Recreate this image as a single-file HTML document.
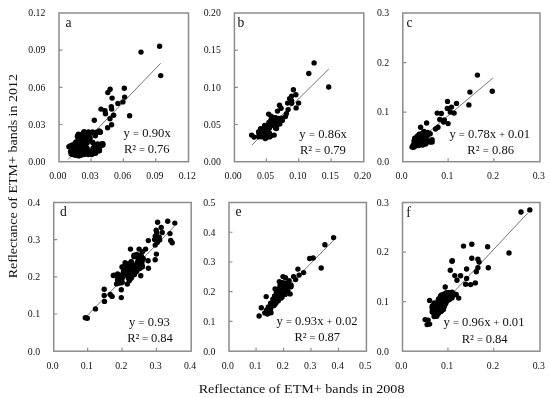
<!DOCTYPE html><html><head><meta charset="utf-8"><style>html,body{margin:0;padding:0;background:#fff;width:550px;height:398px;overflow:hidden}svg{display:block}text{font-family:"Liberation Serif", "DejaVu Serif", serif;fill:#111}</style></head><body>
<svg width="550" height="398" viewBox="0 0 550 398">
<rect width="550" height="398" fill="#fff"/>
<g><line x1="68.1" y1="159.3" x2="160.7" y2="63.3" stroke="#6e6e6e" stroke-width="0.95"/><circle cx="141.0" cy="52.1" r="2.7"/><circle cx="159.6" cy="46.2" r="2.7"/><circle cx="160.7" cy="75.6" r="2.7"/><circle cx="110.1" cy="89.2" r="2.7"/><circle cx="107.8" cy="92.6" r="2.7"/><circle cx="112.1" cy="98.1" r="2.7"/><circle cx="124.3" cy="88.2" r="2.7"/><circle cx="124.6" cy="97.1" r="2.7"/><circle cx="122.9" cy="101.9" r="2.7"/><circle cx="117.9" cy="103.4" r="2.7"/><circle cx="111.3" cy="106.6" r="2.7"/><circle cx="111.6" cy="109.1" r="2.7"/><circle cx="105.0" cy="110.7" r="2.7"/><circle cx="101.0" cy="109.1" r="2.7"/><circle cx="105.5" cy="113.7" r="2.7"/><circle cx="113.6" cy="115.2" r="2.7"/><circle cx="110.0" cy="118.7" r="2.7"/><circle cx="129.6" cy="115.7" r="2.7"/><circle cx="111.6" cy="124.8" r="2.7"/><circle cx="107.6" cy="127.8" r="2.7"/><circle cx="94.3" cy="120.3" r="2.7"/><circle cx="78.4" cy="134.1" r="2.7"/><circle cx="84.1" cy="131.8" r="2.7"/><circle cx="88.5" cy="132" r="2.7"/><circle cx="92.5" cy="132" r="2.7"/><circle cx="96.5" cy="132.2" r="2.7"/><circle cx="100.0" cy="132.2" r="2.7"/><circle cx="87.1" cy="132.7" r="2.7"/><circle cx="90.1" cy="132.7" r="2.7"/><circle cx="93.1" cy="132.7" r="2.7"/><circle cx="96.1" cy="132.7" r="2.7"/><circle cx="79.6" cy="135.3" r="2.7"/><circle cx="82.6" cy="135.3" r="2.7"/><circle cx="85.6" cy="135.3" r="2.7"/><circle cx="88.6" cy="135.3" r="2.7"/><circle cx="78.1" cy="137.9" r="2.7"/><circle cx="81.1" cy="137.9" r="2.7"/><circle cx="84.1" cy="137.9" r="2.7"/><circle cx="87.1" cy="137.9" r="2.7"/><circle cx="90.1" cy="137.9" r="2.7"/><circle cx="79.6" cy="140.5" r="2.7"/><circle cx="82.6" cy="140.5" r="2.7"/><circle cx="85.6" cy="140.5" r="2.7"/><circle cx="88.6" cy="140.5" r="2.7"/><circle cx="75.1" cy="143.1" r="2.7"/><circle cx="78.1" cy="143.1" r="2.7"/><circle cx="81.1" cy="143.1" r="2.7"/><circle cx="84.1" cy="143.1" r="2.7"/><circle cx="87.1" cy="143.1" r="2.7"/><circle cx="93.1" cy="143.1" r="2.7"/><circle cx="70.6" cy="145.7" r="2.7"/><circle cx="73.6" cy="145.7" r="2.7"/><circle cx="76.6" cy="145.7" r="2.7"/><circle cx="79.6" cy="145.7" r="2.7"/><circle cx="82.6" cy="145.7" r="2.7"/><circle cx="85.6" cy="145.7" r="2.7"/><circle cx="94.6" cy="145.7" r="2.7"/><circle cx="97.6" cy="145.7" r="2.7"/><circle cx="75.1" cy="148.3" r="2.7"/><circle cx="78.1" cy="148.3" r="2.7"/><circle cx="81.1" cy="148.3" r="2.7"/><circle cx="84.1" cy="148.3" r="2.7"/><circle cx="87.1" cy="148.3" r="2.7"/><circle cx="93.1" cy="148.3" r="2.7"/><circle cx="96.1" cy="148.3" r="2.7"/><circle cx="73.6" cy="150.9" r="2.7"/><circle cx="76.6" cy="150.9" r="2.7"/><circle cx="79.6" cy="150.9" r="2.7"/><circle cx="82.6" cy="150.9" r="2.7"/><circle cx="85.6" cy="150.9" r="2.7"/><circle cx="88.6" cy="150.9" r="2.7"/><circle cx="91.6" cy="150.9" r="2.7"/><circle cx="94.6" cy="150.9" r="2.7"/><circle cx="97.6" cy="150.9" r="2.7"/><circle cx="72.1" cy="153.5" r="2.7"/><circle cx="75.1" cy="153.5" r="2.7"/><circle cx="78.1" cy="153.5" r="2.7"/><circle cx="81.1" cy="153.5" r="2.7"/><circle cx="84.1" cy="153.5" r="2.7"/><circle cx="87.1" cy="153.5" r="2.7"/><circle cx="90.1" cy="153.5" r="2.7"/><circle cx="93.1" cy="153.5" r="2.7"/><circle cx="77.5" cy="136.0" r="2.7"/><circle cx="78.3" cy="134.9" r="2.7"/><circle cx="83.0" cy="133.2" r="2.7"/><circle cx="86.1" cy="133.0" r="2.7"/><circle cx="89.1" cy="132.8" r="2.7"/><circle cx="92.8" cy="132.8" r="2.7"/><circle cx="95.5" cy="132.7" r="2.7"/><circle cx="99.2" cy="131.0" r="2.7"/><circle cx="100.4" cy="132.0" r="2.7"/><circle cx="95.8" cy="132.9" r="2.7"/><circle cx="95.3" cy="135.7" r="2.7"/><circle cx="92.6" cy="142.1" r="2.7"/><circle cx="97.6" cy="144.0" r="2.7"/><circle cx="101.2" cy="143.9" r="2.7"/><circle cx="102.9" cy="143.7" r="2.7"/><circle cx="102.8" cy="145.0" r="2.7"/><circle cx="100.8" cy="146.1" r="2.7"/><circle cx="99.2" cy="149.5" r="2.7"/><circle cx="99.5" cy="150.8" r="2.7"/><circle cx="95.6" cy="153.2" r="2.7"/><circle cx="91.8" cy="154.5" r="2.7"/><circle cx="88.2" cy="154.5" r="2.7"/><circle cx="84.1" cy="154.6" r="2.7"/><circle cx="80.9" cy="155.2" r="2.7"/><circle cx="78.8" cy="155.9" r="2.7"/><circle cx="75.3" cy="155.3" r="2.7"/><circle cx="72.4" cy="154.5" r="2.7"/><circle cx="71.1" cy="153.7" r="2.7"/><circle cx="70.6" cy="151.5" r="2.7"/><circle cx="70.9" cy="146.5" r="2.7"/><circle cx="68.9" cy="146.8" r="2.7"/><circle cx="72.4" cy="144.9" r="2.7"/><circle cx="76.0" cy="142.0" r="2.7"/><circle cx="78.3" cy="137.3" r="2.7"/><circle cx="77.5" cy="136.3" r="2.7"/><rect x="59" y="13" width="129.50" height="148.70" fill="none" stroke="#8c8c8c" stroke-width="1.5"/><text x="57.80" y="179.30" font-size="9.8" text-anchor="middle">0.00</text><text x="90.17" y="179.30" font-size="9.8" text-anchor="middle">0.03</text><text x="122.55" y="179.30" font-size="9.8" text-anchor="middle">0.06</text><text x="154.93" y="179.30" font-size="9.8" text-anchor="middle">0.09</text><text x="187.30" y="179.30" font-size="9.8" text-anchor="middle">0.12</text><text x="45.40" y="165.00" font-size="9.8" text-anchor="end">0.00</text><text x="45.40" y="127.82" font-size="9.8" text-anchor="end">0.03</text><text x="45.40" y="90.65" font-size="9.8" text-anchor="end">0.06</text><text x="45.40" y="53.47" font-size="9.8" text-anchor="end">0.09</text><text x="45.40" y="16.30" font-size="9.8" text-anchor="end">0.12</text><path d="M90.97 161.7v-3.5 M123.35 161.7v-3.5 M155.72 161.7v-3.5 M59 124.52h3.5 M59 87.35h3.5 M59 50.17h3.5" stroke="#8c8c8c" stroke-width="1.2" fill="none"/><text x="65.5" y="26.5" font-size="13.6">a</text><text x="147.1" y="137.2" font-size="12.6" text-anchor="middle" textLength="47.3" lengthAdjust="spacing">y <tspan font-size="10.5">=</tspan> 0.90x</text><text x="146.7" y="153.0" font-size="12.6" text-anchor="middle" textLength="45.6" lengthAdjust="spacing">R² <tspan font-size="10.5">=</tspan> 0.76</text></g>
<g><line x1="251.9" y1="145.0" x2="328.9" y2="68.9" stroke="#6e6e6e" stroke-width="0.95"/><circle cx="314.1" cy="62.9" r="2.7"/><circle cx="308.8" cy="73.5" r="2.7"/><circle cx="328.7" cy="87" r="2.7"/><circle cx="293.4" cy="89.8" r="2.7"/><circle cx="295.9" cy="94.8" r="2.7"/><circle cx="291.6" cy="96.1" r="2.7"/><circle cx="289.6" cy="98.6" r="2.7"/><circle cx="291.6" cy="100.6" r="2.7"/><circle cx="287.6" cy="103.1" r="2.7"/><circle cx="291.6" cy="103.3" r="2.7"/><circle cx="298.6" cy="103.1" r="2.7"/><circle cx="296.1" cy="107.9" r="2.7"/><circle cx="279.5" cy="105.3" r="2.7"/><circle cx="281.1" cy="108.2" r="2.7"/><circle cx="277.5" cy="111.1" r="2.7"/><circle cx="288.1" cy="109.6" r="2.7"/><circle cx="286.4" cy="113.6" r="2.7"/><circle cx="285.4" cy="116.6" r="2.7"/><circle cx="268.6" cy="114.1" r="2.7"/><circle cx="271.1" cy="116.1" r="2.7"/><circle cx="251.6" cy="135.1" r="2.7"/><circle cx="254.1" cy="137.1" r="2.7"/><circle cx="275.5" cy="117.6" r="2.7"/><circle cx="271.0" cy="120.2" r="2.7"/><circle cx="274.0" cy="120.2" r="2.7"/><circle cx="277.0" cy="120.2" r="2.7"/><circle cx="280.0" cy="120.2" r="2.7"/><circle cx="269.5" cy="122.8" r="2.7"/><circle cx="272.5" cy="122.8" r="2.7"/><circle cx="275.5" cy="122.8" r="2.7"/><circle cx="278.5" cy="122.8" r="2.7"/><circle cx="265.0" cy="125.4" r="2.7"/><circle cx="268.0" cy="125.4" r="2.7"/><circle cx="271.0" cy="125.4" r="2.7"/><circle cx="274.0" cy="125.4" r="2.7"/><circle cx="277.0" cy="125.4" r="2.7"/><circle cx="263.5" cy="128.0" r="2.7"/><circle cx="266.5" cy="128.0" r="2.7"/><circle cx="269.5" cy="128.0" r="2.7"/><circle cx="275.5" cy="128.0" r="2.7"/><circle cx="262.0" cy="130.6" r="2.7"/><circle cx="265.0" cy="130.6" r="2.7"/><circle cx="268.0" cy="130.6" r="2.7"/><circle cx="260.5" cy="133.2" r="2.7"/><circle cx="263.5" cy="133.2" r="2.7"/><circle cx="266.5" cy="133.2" r="2.7"/><circle cx="269.5" cy="133.2" r="2.7"/><circle cx="262.0" cy="135.8" r="2.7"/><circle cx="265.0" cy="135.8" r="2.7"/><circle cx="268.0" cy="135.8" r="2.7"/><circle cx="271.0" cy="135.8" r="2.7"/><circle cx="258.7" cy="136.7" r="2.7"/><circle cx="258.9" cy="133.5" r="2.7"/><circle cx="258.7" cy="131.6" r="2.7"/><circle cx="260.6" cy="128.7" r="2.7"/><circle cx="264.6" cy="125.7" r="2.7"/><circle cx="268.9" cy="122.4" r="2.7"/><circle cx="271.2" cy="119.9" r="2.7"/><circle cx="274.5" cy="117.6" r="2.7"/><circle cx="278.8" cy="118.4" r="2.7"/><circle cx="281.3" cy="118.3" r="2.7"/><circle cx="282.3" cy="120.4" r="2.7"/><circle cx="279.8" cy="123.9" r="2.7"/><circle cx="276.5" cy="128.6" r="2.7"/><circle cx="274.2" cy="135.1" r="2.7"/><circle cx="269.6" cy="136.9" r="2.7"/><circle cx="266.5" cy="137.6" r="2.7"/><circle cx="265.3" cy="138.6" r="2.7"/><circle cx="261.4" cy="136.7" r="2.7"/><rect x="234.4" y="13" width="129.40" height="148.70" fill="none" stroke="#8c8c8c" stroke-width="1.5"/><text x="233.20" y="179.30" font-size="9.8" text-anchor="middle">0.00</text><text x="265.55" y="179.30" font-size="9.8" text-anchor="middle">0.05</text><text x="297.90" y="179.30" font-size="9.8" text-anchor="middle">0.10</text><text x="330.25" y="179.30" font-size="9.8" text-anchor="middle">0.15</text><text x="362.60" y="179.30" font-size="9.8" text-anchor="middle">0.20</text><text x="220.80" y="165.00" font-size="9.8" text-anchor="end">0.00</text><text x="220.80" y="127.82" font-size="9.8" text-anchor="end">0.05</text><text x="220.80" y="90.65" font-size="9.8" text-anchor="end">0.10</text><text x="220.80" y="53.47" font-size="9.8" text-anchor="end">0.15</text><text x="220.80" y="16.30" font-size="9.8" text-anchor="end">0.20</text><path d="M266.35 161.7v-3.5 M298.70 161.7v-3.5 M331.05 161.7v-3.5 M234.4 124.52h3.5 M234.4 87.35h3.5 M234.4 50.17h3.5" stroke="#8c8c8c" stroke-width="1.2" fill="none"/><text x="237.6" y="26.6" font-size="13.6">b</text><text x="323.1" y="138.0" font-size="12.6" text-anchor="middle" textLength="47.6" lengthAdjust="spacing">y <tspan font-size="10.5">=</tspan> 0.86x</text><text x="322.9" y="154.1" font-size="12.6" text-anchor="middle" textLength="45.8" lengthAdjust="spacing">R² <tspan font-size="10.5">=</tspan> 0.79</text></g>
<g><line x1="414" y1="144.5" x2="492.8" y2="78.1" stroke="#6e6e6e" stroke-width="0.95"/><circle cx="477.4" cy="75.1" r="2.7"/><circle cx="469.9" cy="92.1" r="2.7"/><circle cx="492.3" cy="91.2" r="2.7"/><circle cx="468.9" cy="104.9" r="2.7"/><circle cx="447.5" cy="101.4" r="2.7"/><circle cx="456.5" cy="103.4" r="2.7"/><circle cx="447.3" cy="108.4" r="2.7"/><circle cx="451.5" cy="107.1" r="2.7"/><circle cx="450.3" cy="112" r="2.7"/><circle cx="454.1" cy="113.1" r="2.7"/><circle cx="437.2" cy="113.1" r="2.7"/><circle cx="441.3" cy="113.5" r="2.7"/><circle cx="439.8" cy="119.5" r="2.7"/><circle cx="444.3" cy="119.9" r="2.7"/><circle cx="443.6" cy="122.1" r="2.7"/><circle cx="448.1" cy="123.6" r="2.7"/><circle cx="426.6" cy="123" r="2.7"/><circle cx="420.6" cy="127.2" r="2.7"/><circle cx="435.5" cy="129" r="2.7"/><circle cx="438" cy="127.2" r="2.7"/><circle cx="412" cy="147.1" r="2.7"/><circle cx="432.1" cy="142.1" r="2.7"/><circle cx="419.5" cy="134.2" r="2.7"/><circle cx="422.5" cy="134.2" r="2.7"/><circle cx="425.5" cy="134.2" r="2.7"/><circle cx="428.5" cy="134.2" r="2.7"/><circle cx="418.0" cy="136.8" r="2.7"/><circle cx="421.0" cy="136.8" r="2.7"/><circle cx="424.0" cy="136.8" r="2.7"/><circle cx="427.0" cy="136.8" r="2.7"/><circle cx="416.5" cy="139.4" r="2.7"/><circle cx="419.5" cy="139.4" r="2.7"/><circle cx="422.5" cy="139.4" r="2.7"/><circle cx="425.5" cy="139.4" r="2.7"/><circle cx="415.0" cy="142.0" r="2.7"/><circle cx="418.0" cy="142.0" r="2.7"/><circle cx="421.0" cy="142.0" r="2.7"/><circle cx="424.0" cy="142.0" r="2.7"/><circle cx="427.0" cy="142.0" r="2.7"/><circle cx="430.0" cy="142.0" r="2.7"/><circle cx="413.5" cy="144.6" r="2.7"/><circle cx="416.5" cy="144.6" r="2.7"/><circle cx="419.5" cy="144.6" r="2.7"/><circle cx="422.5" cy="144.6" r="2.7"/><circle cx="414.0" cy="140.9" r="2.7"/><circle cx="414.7" cy="138.1" r="2.7"/><circle cx="417.2" cy="136.1" r="2.7"/><circle cx="419.1" cy="134.5" r="2.7"/><circle cx="422.6" cy="133.0" r="2.7"/><circle cx="424.0" cy="131.5" r="2.7"/><circle cx="427.7" cy="132.5" r="2.7"/><circle cx="430.2" cy="133.7" r="2.7"/><circle cx="428.9" cy="141.2" r="2.7"/><circle cx="432.1" cy="139.7" r="2.7"/><circle cx="430.4" cy="141.6" r="2.7"/><circle cx="425.7" cy="144.0" r="2.7"/><circle cx="422.7" cy="145.1" r="2.7"/><circle cx="418.7" cy="145.5" r="2.7"/><circle cx="415.5" cy="146.0" r="2.7"/><circle cx="413.7" cy="147.3" r="2.7"/><circle cx="413.1" cy="145.5" r="2.7"/><rect x="402.8" y="13" width="137.20" height="148.70" fill="none" stroke="#8c8c8c" stroke-width="1.5"/><text x="401.60" y="179.30" font-size="9.8" text-anchor="middle">0.0</text><text x="447.33" y="179.30" font-size="9.8" text-anchor="middle">0.1</text><text x="493.07" y="179.30" font-size="9.8" text-anchor="middle">0.2</text><text x="538.80" y="179.30" font-size="9.8" text-anchor="middle">0.3</text><text x="389.20" y="165.00" font-size="9.8" text-anchor="end">0.0</text><text x="389.20" y="115.43" font-size="9.8" text-anchor="end">0.1</text><text x="389.20" y="65.87" font-size="9.8" text-anchor="end">0.2</text><text x="389.20" y="16.30" font-size="9.8" text-anchor="end">0.3</text><path d="M448.13 161.7v-3.5 M493.87 161.7v-3.5 M402.8 112.13h3.5 M402.8 62.57h3.5" stroke="#8c8c8c" stroke-width="1.2" fill="none"/><text x="406.6" y="26.7" font-size="13.6">c</text><text x="489.7" y="137.9" font-size="12.6" text-anchor="middle" textLength="80.5" lengthAdjust="spacing">y <tspan font-size="10.5">=</tspan> 0.78x <tspan font-size="10">+</tspan> 0.01</text><text x="490.7" y="154.3" font-size="12.6" text-anchor="middle" textLength="46.9" lengthAdjust="spacing">R² <tspan font-size="10.5">=</tspan> 0.86</text></g>
<g><line x1="86.3" y1="316.5" x2="174.5" y2="226.1" stroke="#6e6e6e" stroke-width="0.95"/><circle cx="167.7" cy="221.2" r="2.7"/><circle cx="174.8" cy="223.1" r="2.7"/><circle cx="157.6" cy="222.3" r="2.7"/><circle cx="161.2" cy="227.5" r="2.7"/><circle cx="156.2" cy="230.3" r="2.7"/><circle cx="162.2" cy="232.5" r="2.7"/><circle cx="156.7" cy="233" r="2.7"/><circle cx="155.2" cy="236.1" r="2.7"/><circle cx="159.2" cy="237.1" r="2.7"/><circle cx="154.6" cy="239.6" r="2.7"/><circle cx="159.7" cy="240.1" r="2.7"/><circle cx="157.2" cy="242.6" r="2.7"/><circle cx="155.2" cy="245.1" r="2.7"/><circle cx="170" cy="233.6" r="2.7"/><circle cx="170.7" cy="240.4" r="2.7"/><circle cx="172.2" cy="242.7" r="2.7"/><circle cx="148.3" cy="240.6" r="2.7"/><circle cx="130.5" cy="249.1" r="2.7"/><circle cx="139.1" cy="249.1" r="2.7"/><circle cx="145.6" cy="249.1" r="2.7"/><circle cx="142.6" cy="251.6" r="2.7"/><circle cx="156.4" cy="254.1" r="2.7"/><circle cx="155.2" cy="259.7" r="2.7"/><circle cx="148.1" cy="260.7" r="2.7"/><circle cx="134" cy="255.2" r="2.7"/><circle cx="137.7" cy="257.6" r="2.7"/><circle cx="141.5" cy="256.3" r="2.7"/><circle cx="143.3" cy="258.8" r="2.7"/><circle cx="148.4" cy="268.3" r="2.7"/><circle cx="141.5" cy="266.4" r="2.7"/><circle cx="125.1" cy="262.6" r="2.7"/><circle cx="122" cy="267" r="2.7"/><circle cx="113.8" cy="275.2" r="2.7"/><circle cx="117.6" cy="273.9" r="2.7"/><circle cx="140.8" cy="275.8" r="2.7"/><circle cx="136.4" cy="271.4" r="2.7"/><circle cx="116.6" cy="283.9" r="2.7"/><circle cx="127.3" cy="284.1" r="2.7"/><circle cx="104.2" cy="289.2" r="2.7"/><circle cx="104.2" cy="295.4" r="2.7"/><circle cx="110.2" cy="294.5" r="2.7"/><circle cx="112.1" cy="296.4" r="2.7"/><circle cx="104.5" cy="301.4" r="2.7"/><circle cx="95.5" cy="308.9" r="2.7"/><circle cx="85.3" cy="317.7" r="2.7"/><circle cx="87.3" cy="318.3" r="2.7"/><circle cx="121.3" cy="289.8" r="2.7"/><circle cx="121.3" cy="297.6" r="2.7"/><circle cx="113.3" cy="275.6" r="2.7"/><circle cx="117.5" cy="277.5" r="2.7"/><circle cx="137.3" cy="257.1" r="2.7"/><circle cx="140.3" cy="257.1" r="2.7"/><circle cx="138.8" cy="259.7" r="2.7"/><circle cx="141.8" cy="259.7" r="2.7"/><circle cx="131.3" cy="262.3" r="2.7"/><circle cx="137.3" cy="262.3" r="2.7"/><circle cx="140.3" cy="262.3" r="2.7"/><circle cx="126.8" cy="264.9" r="2.7"/><circle cx="129.8" cy="264.9" r="2.7"/><circle cx="132.8" cy="264.9" r="2.7"/><circle cx="135.8" cy="264.9" r="2.7"/><circle cx="138.8" cy="264.9" r="2.7"/><circle cx="141.8" cy="264.9" r="2.7"/><circle cx="125.3" cy="267.5" r="2.7"/><circle cx="128.3" cy="267.5" r="2.7"/><circle cx="131.3" cy="267.5" r="2.7"/><circle cx="134.3" cy="267.5" r="2.7"/><circle cx="137.3" cy="267.5" r="2.7"/><circle cx="140.3" cy="267.5" r="2.7"/><circle cx="123.8" cy="270.1" r="2.7"/><circle cx="126.8" cy="270.1" r="2.7"/><circle cx="129.8" cy="270.1" r="2.7"/><circle cx="132.8" cy="270.1" r="2.7"/><circle cx="135.8" cy="270.1" r="2.7"/><circle cx="125.3" cy="272.7" r="2.7"/><circle cx="128.3" cy="272.7" r="2.7"/><circle cx="131.3" cy="272.7" r="2.7"/><circle cx="134.3" cy="272.7" r="2.7"/><circle cx="120.8" cy="275.3" r="2.7"/><circle cx="123.8" cy="275.3" r="2.7"/><circle cx="126.8" cy="275.3" r="2.7"/><circle cx="129.8" cy="275.3" r="2.7"/><circle cx="132.8" cy="275.3" r="2.7"/><circle cx="122.3" cy="277.9" r="2.7"/><circle cx="128.3" cy="277.9" r="2.7"/><circle cx="131.3" cy="277.9" r="2.7"/><circle cx="120.8" cy="280.5" r="2.7"/><circle cx="122.9" cy="267.3" r="2.7"/><circle cx="125.4" cy="265.7" r="2.7"/><circle cx="127.9" cy="264.0" r="2.7"/><circle cx="131.1" cy="261.6" r="2.7"/><circle cx="133.9" cy="256.8" r="2.7"/><circle cx="136.7" cy="254.4" r="2.7"/><circle cx="140.3" cy="255.0" r="2.7"/><circle cx="142.5" cy="258.5" r="2.7"/><circle cx="142.1" cy="261.8" r="2.7"/><circle cx="141.7" cy="265.2" r="2.7"/><circle cx="142.4" cy="266.7" r="2.7"/><circle cx="139.8" cy="268.6" r="2.7"/><circle cx="136.7" cy="271.2" r="2.7"/><circle cx="134.5" cy="274.5" r="2.7"/><circle cx="130.6" cy="278.5" r="2.7"/><circle cx="129.3" cy="280.8" r="2.7"/><circle cx="122.2" cy="282.2" r="2.7"/><circle cx="120.9" cy="282.9" r="2.7"/><circle cx="118.6" cy="283.0" r="2.7"/><circle cx="117.6" cy="280.1" r="2.7"/><circle cx="118.3" cy="278.2" r="2.7"/><circle cx="120.5" cy="275.7" r="2.7"/><circle cx="123.4" cy="271.7" r="2.7"/><circle cx="123.7" cy="268.5" r="2.7"/><rect x="53.7" y="202.5" width="137.50" height="148.70" fill="none" stroke="#8c8c8c" stroke-width="1.5"/><text x="52.50" y="368.80" font-size="9.8" text-anchor="middle">0.0</text><text x="86.88" y="368.80" font-size="9.8" text-anchor="middle">0.1</text><text x="121.25" y="368.80" font-size="9.8" text-anchor="middle">0.2</text><text x="155.62" y="368.80" font-size="9.8" text-anchor="middle">0.3</text><text x="190.00" y="368.80" font-size="9.8" text-anchor="middle">0.4</text><text x="40.10" y="354.50" font-size="9.8" text-anchor="end">0.0</text><text x="40.10" y="317.32" font-size="9.8" text-anchor="end">0.1</text><text x="40.10" y="280.15" font-size="9.8" text-anchor="end">0.2</text><text x="40.10" y="242.98" font-size="9.8" text-anchor="end">0.3</text><text x="40.10" y="205.80" font-size="9.8" text-anchor="end">0.4</text><path d="M87.67 351.2v-3.5 M122.05 351.2v-3.5 M156.42 351.2v-3.5 M53.7 314.02h3.5 M53.7 276.85h3.5 M53.7 239.68h3.5" stroke="#8c8c8c" stroke-width="1.2" fill="none"/><text x="60.0" y="215.8" font-size="13.6">d</text><text x="149.4" y="325.6" font-size="12.6" text-anchor="middle" textLength="41" lengthAdjust="spacing">y <tspan font-size="10.5">=</tspan> 0.93</text><text x="150" y="342.0" font-size="12.6" text-anchor="middle" textLength="45.6" lengthAdjust="spacing">R² <tspan font-size="10.5">=</tspan> 0.84</text></g>
<g><line x1="262" y1="313" x2="334" y2="239.8" stroke="#6e6e6e" stroke-width="0.95"/><circle cx="333.6" cy="237.6" r="2.7"/><circle cx="324.9" cy="244.8" r="2.7"/><circle cx="309.7" cy="258.5" r="2.7"/><circle cx="313.2" cy="258" r="2.7"/><circle cx="321.2" cy="268" r="2.7"/><circle cx="297.9" cy="269.1" r="2.7"/><circle cx="303.6" cy="272.6" r="2.7"/><circle cx="299.1" cy="275.1" r="2.7"/><circle cx="293.6" cy="276.6" r="2.7"/><circle cx="295.6" cy="279.6" r="2.7"/><circle cx="283" cy="276.6" r="2.7"/><circle cx="285.5" cy="277.8" r="2.7"/><circle cx="289.1" cy="280.6" r="2.7"/><circle cx="291.1" cy="285.2" r="2.7"/><circle cx="290.1" cy="293.9" r="2.7"/><circle cx="266.2" cy="296.6" r="2.7"/><circle cx="261.3" cy="307.8" r="2.7"/><circle cx="259.1" cy="316" r="2.7"/><circle cx="275.1" cy="288.9" r="2.7"/><circle cx="280.5" cy="284.2" r="2.7"/><circle cx="283.5" cy="284.2" r="2.7"/><circle cx="286.5" cy="284.2" r="2.7"/><circle cx="282.0" cy="286.8" r="2.7"/><circle cx="285.0" cy="286.8" r="2.7"/><circle cx="288.0" cy="286.8" r="2.7"/><circle cx="280.5" cy="289.4" r="2.7"/><circle cx="283.5" cy="289.4" r="2.7"/><circle cx="286.5" cy="289.4" r="2.7"/><circle cx="279.0" cy="292.0" r="2.7"/><circle cx="282.0" cy="292.0" r="2.7"/><circle cx="285.0" cy="292.0" r="2.7"/><circle cx="277.5" cy="294.6" r="2.7"/><circle cx="280.5" cy="294.6" r="2.7"/><circle cx="283.5" cy="294.6" r="2.7"/><circle cx="276.0" cy="297.2" r="2.7"/><circle cx="279.0" cy="297.2" r="2.7"/><circle cx="282.0" cy="297.2" r="2.7"/><circle cx="274.5" cy="299.8" r="2.7"/><circle cx="277.5" cy="299.8" r="2.7"/><circle cx="273.0" cy="302.4" r="2.7"/><circle cx="276.0" cy="302.4" r="2.7"/><circle cx="271.5" cy="305.0" r="2.7"/><circle cx="274.5" cy="305.0" r="2.7"/><circle cx="270.0" cy="307.6" r="2.7"/><circle cx="268.5" cy="310.2" r="2.7"/><circle cx="267.0" cy="312.8" r="2.7"/><circle cx="279.3" cy="281.6" r="2.7"/><circle cx="282.8" cy="282.6" r="2.7"/><circle cx="285.6" cy="283.3" r="2.7"/><circle cx="289.4" cy="284.6" r="2.7"/><circle cx="291.0" cy="286.7" r="2.7"/><circle cx="287.8" cy="290.5" r="2.7"/><circle cx="285.2" cy="294.4" r="2.7"/><circle cx="280.8" cy="298.2" r="2.7"/><circle cx="278.3" cy="300.7" r="2.7"/><circle cx="275.7" cy="303.3" r="2.7"/><circle cx="273.4" cy="305.8" r="2.7"/><circle cx="270.5" cy="309.2" r="2.7"/><circle cx="271.0" cy="312.8" r="2.7"/><circle cx="267.4" cy="314.0" r="2.7"/><circle cx="264.8" cy="312.9" r="2.7"/><circle cx="266.6" cy="309.9" r="2.7"/><circle cx="268.3" cy="306.9" r="2.7"/><circle cx="270.6" cy="303.1" r="2.7"/><circle cx="272.9" cy="299.3" r="2.7"/><circle cx="274.6" cy="296.0" r="2.7"/><circle cx="276.4" cy="292.8" r="2.7"/><circle cx="278.1" cy="289.5" r="2.7"/><circle cx="280.0" cy="286.0" r="2.7"/><circle cx="281.2" cy="283.0" r="2.7"/><rect x="229.0" y="202.5" width="137.40" height="148.70" fill="none" stroke="#8c8c8c" stroke-width="1.5"/><text x="227.80" y="368.80" font-size="9.8" text-anchor="middle">0.0</text><text x="255.28" y="368.80" font-size="9.8" text-anchor="middle">0.1</text><text x="282.76" y="368.80" font-size="9.8" text-anchor="middle">0.2</text><text x="310.24" y="368.80" font-size="9.8" text-anchor="middle">0.3</text><text x="337.72" y="368.80" font-size="9.8" text-anchor="middle">0.4</text><text x="365.20" y="368.80" font-size="9.8" text-anchor="middle">0.5</text><text x="215.40" y="354.50" font-size="9.8" text-anchor="end">0.0</text><text x="215.40" y="324.76" font-size="9.8" text-anchor="end">0.1</text><text x="215.40" y="295.02" font-size="9.8" text-anchor="end">0.2</text><text x="215.40" y="265.28" font-size="9.8" text-anchor="end">0.3</text><text x="215.40" y="235.54" font-size="9.8" text-anchor="end">0.4</text><text x="215.40" y="205.80" font-size="9.8" text-anchor="end">0.5</text><path d="M256.08 351.2v-3.5 M283.56 351.2v-3.5 M311.04 351.2v-3.5 M338.52 351.2v-3.5 M229.0 321.46h3.5 M229.0 291.72h3.5 M229.0 261.98h3.5 M229.0 232.24h3.5" stroke="#8c8c8c" stroke-width="1.2" fill="none"/><text x="235.6" y="215.9" font-size="13.6">e</text><text x="317" y="325.2" font-size="12.6" text-anchor="middle" textLength="81.2" lengthAdjust="spacing">y <tspan font-size="10.5">=</tspan> 0.93x <tspan font-size="10">+</tspan> 0.02</text><text x="317.3" y="341.2" font-size="12.6" text-anchor="middle" textLength="45.5" lengthAdjust="spacing">R² <tspan font-size="10.5">=</tspan> 0.87</text></g>
<g><line x1="435" y1="312" x2="527.7" y2="213.1" stroke="#6e6e6e" stroke-width="0.95"/><circle cx="521" cy="212" r="2.7"/><circle cx="529.8" cy="209.9" r="2.7"/><circle cx="471.8" cy="244.2" r="2.7"/><circle cx="487.6" cy="246.8" r="2.7"/><circle cx="509" cy="253" r="2.7"/><circle cx="471.8" cy="258.3" r="2.7"/><circle cx="477.9" cy="259.2" r="2.7"/><circle cx="479.1" cy="262.1" r="2.7"/><circle cx="477.9" cy="267.7" r="2.7"/><circle cx="488.3" cy="267.8" r="2.7"/><circle cx="463.5" cy="246.1" r="2.7"/><circle cx="452.3" cy="260.8" r="2.7"/><circle cx="476.3" cy="271.7" r="2.7"/><circle cx="466.6" cy="269" r="2.7"/><circle cx="450.3" cy="270.3" r="2.7"/><circle cx="454.8" cy="275.6" r="2.7"/><circle cx="460.6" cy="275.7" r="2.7"/><circle cx="466.6" cy="278.5" r="2.7"/><circle cx="445.2" cy="287" r="2.7"/><circle cx="429.6" cy="300.4" r="2.7"/><circle cx="425.1" cy="319.6" r="2.7"/><circle cx="428.1" cy="320.1" r="2.7"/><circle cx="427.1" cy="324.6" r="2.7"/><circle cx="429.6" cy="324.1" r="2.7"/><circle cx="457" cy="280.3" r="2.7"/><circle cx="465.6" cy="284.2" r="2.7"/><circle cx="470.6" cy="284.6" r="2.7"/><circle cx="475.3" cy="282.9" r="2.7"/><circle cx="452" cy="261.3" r="2.7"/><circle cx="449.0" cy="292.7" r="2.7"/><circle cx="452.0" cy="292.7" r="2.7"/><circle cx="441.5" cy="295.3" r="2.7"/><circle cx="444.5" cy="295.3" r="2.7"/><circle cx="447.5" cy="295.3" r="2.7"/><circle cx="450.5" cy="295.3" r="2.7"/><circle cx="453.5" cy="295.3" r="2.7"/><circle cx="440.0" cy="297.9" r="2.7"/><circle cx="443.0" cy="297.9" r="2.7"/><circle cx="446.0" cy="297.9" r="2.7"/><circle cx="449.0" cy="297.9" r="2.7"/><circle cx="452.0" cy="297.9" r="2.7"/><circle cx="438.5" cy="300.5" r="2.7"/><circle cx="441.5" cy="300.5" r="2.7"/><circle cx="444.5" cy="300.5" r="2.7"/><circle cx="447.5" cy="300.5" r="2.7"/><circle cx="437.0" cy="303.1" r="2.7"/><circle cx="440.0" cy="303.1" r="2.7"/><circle cx="443.0" cy="303.1" r="2.7"/><circle cx="446.0" cy="303.1" r="2.7"/><circle cx="432.5" cy="305.7" r="2.7"/><circle cx="435.5" cy="305.7" r="2.7"/><circle cx="438.5" cy="305.7" r="2.7"/><circle cx="441.5" cy="305.7" r="2.7"/><circle cx="444.5" cy="305.7" r="2.7"/><circle cx="434.0" cy="308.3" r="2.7"/><circle cx="437.0" cy="308.3" r="2.7"/><circle cx="440.0" cy="308.3" r="2.7"/><circle cx="443.0" cy="308.3" r="2.7"/><circle cx="432.5" cy="310.9" r="2.7"/><circle cx="435.5" cy="310.9" r="2.7"/><circle cx="438.5" cy="310.9" r="2.7"/><circle cx="441.5" cy="310.9" r="2.7"/><circle cx="434.0" cy="313.5" r="2.7"/><circle cx="437.0" cy="313.5" r="2.7"/><circle cx="435.5" cy="316.1" r="2.7"/><circle cx="438.4" cy="299.2" r="2.7"/><circle cx="440.3" cy="296.7" r="2.7"/><circle cx="441.1" cy="295.1" r="2.7"/><circle cx="444.2" cy="293.9" r="2.7"/><circle cx="446.4" cy="292.8" r="2.7"/><circle cx="450.1" cy="292.8" r="2.7"/><circle cx="452.1" cy="292.1" r="2.7"/><circle cx="454.6" cy="294.3" r="2.7"/><circle cx="456.2" cy="294.5" r="2.7"/><circle cx="458.7" cy="298.1" r="2.7"/><circle cx="449.5" cy="299.5" r="2.7"/><circle cx="445.1" cy="304.2" r="2.7"/><circle cx="443.8" cy="307.4" r="2.7"/><circle cx="443.4" cy="309.4" r="2.7"/><circle cx="440.9" cy="311.4" r="2.7"/><circle cx="438.5" cy="313.4" r="2.7"/><circle cx="436.8" cy="316.2" r="2.7"/><circle cx="434.1" cy="316.5" r="2.7"/><circle cx="432.2" cy="312.1" r="2.7"/><circle cx="432.3" cy="308.9" r="2.7"/><circle cx="432.1" cy="306.9" r="2.7"/><circle cx="434.3" cy="303.0" r="2.7"/><rect x="402.5" y="202.5" width="137.50" height="148.70" fill="none" stroke="#8c8c8c" stroke-width="1.5"/><text x="401.30" y="368.80" font-size="9.8" text-anchor="middle">0.0</text><text x="447.13" y="368.80" font-size="9.8" text-anchor="middle">0.1</text><text x="492.97" y="368.80" font-size="9.8" text-anchor="middle">0.2</text><text x="538.80" y="368.80" font-size="9.8" text-anchor="middle">0.3</text><text x="388.90" y="354.50" font-size="9.8" text-anchor="end">0.0</text><text x="388.90" y="304.93" font-size="9.8" text-anchor="end">0.1</text><text x="388.90" y="255.37" font-size="9.8" text-anchor="end">0.2</text><text x="388.90" y="205.80" font-size="9.8" text-anchor="end">0.3</text><path d="M447.93 351.2v-3.5 M493.77 351.2v-3.5 M402.5 301.63h3.5 M402.5 252.07h3.5" stroke="#8c8c8c" stroke-width="1.2" fill="none"/><text x="406.3" y="217.2" font-size="13.6">f</text><text x="484" y="326.3" font-size="12.6" text-anchor="middle" textLength="80.9" lengthAdjust="spacing">y <tspan font-size="10.5">=</tspan> 0.96x <tspan font-size="10">+</tspan> 0.01</text><text x="484.7" y="343.4" font-size="12.6" text-anchor="middle" textLength="45.8" lengthAdjust="spacing">R² <tspan font-size="10.5">=</tspan> 0.84</text></g>
<text x="198.7" y="392.8" font-size="13.1" textLength="205.8" lengthAdjust="spacingAndGlyphs">Reflectance of ETM+ bands in 2008</text>
<text transform="translate(17.1,278.3) rotate(-90)" font-size="13.1" textLength="204.3" lengthAdjust="spacingAndGlyphs">Reflectance of ETM+ bands in 2012</text>
</svg></body></html>
